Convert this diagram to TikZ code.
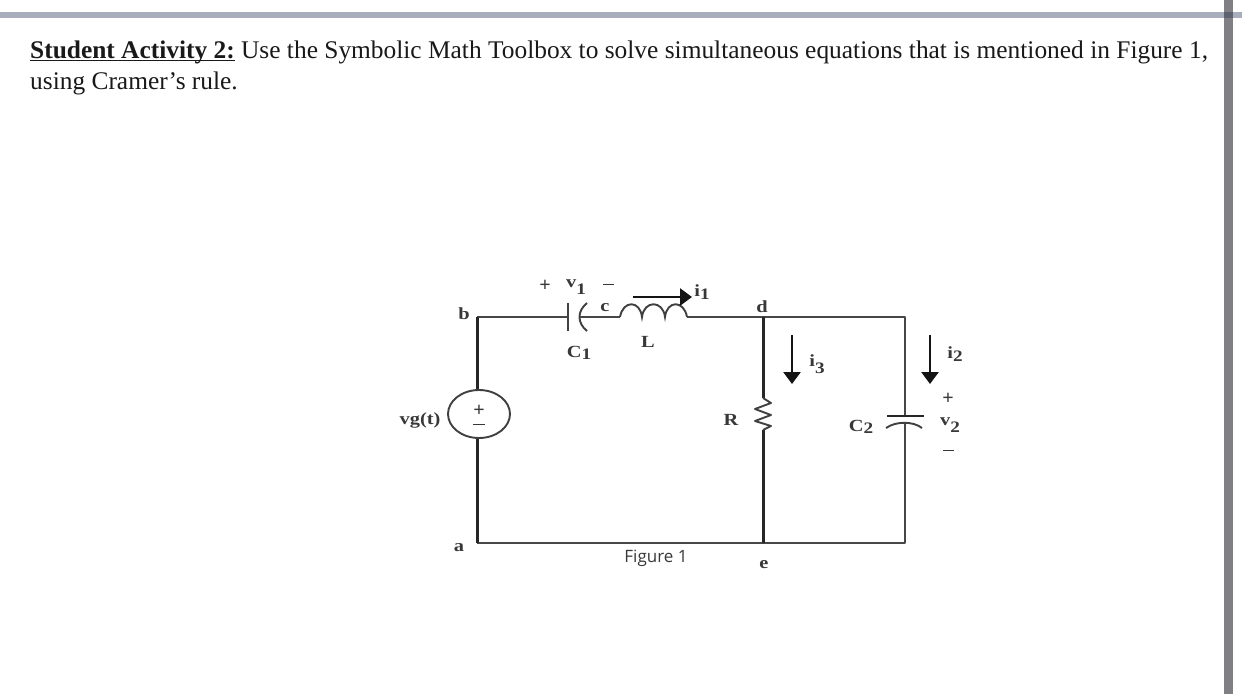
\documentclass[tikz,border=0pt]{standalone}
\usepackage{fontspec}
\setmainfont{Liberation Serif}
\newfontfamily\figfont{Open Sans}
\usetikzlibrary{arrows.meta,shapes.geometric}
\definecolor{barblue}{HTML}{A9AEBC}
\definecolor{bargray}{HTML}{808084}
\definecolor{barcross}{HTML}{5E6270}
\definecolor{labelgray}{HTML}{383838}
\newcommand{\lsub}[2]{\raisebox{#1}{\fontsize{16}{18}\selectfont #2}}
\tikzset{
  x=1pt,y=-1pt,
  body/.style={inner sep=0pt,anchor=base west,font=\fontsize{25.4}{30}\selectfont,text=black!90},
  lab/.style={inner sep=0pt,text=labelgray,xscale=1.2,font=\fontsize{17}{20}\selectfont\bfseries},
  mark sign/.style={inner sep=0pt,text=labelgray,font=\fontsize{20}{22}\selectfont\bfseries},
  wire/.style={draw=black!72,line width=2pt},
  thick wire/.style={draw=black!85,line width=3pt},
  part/.style={draw=black!75,line width=1.9pt},
  current/.style={draw=black!92,line width=2.6pt,-{Triangle[width=17pt,length=12pt]}},
  junction/.style={coordinate},
}
\begin{document}
\begin{tikzpicture}
\useasboundingbox (0,0) rectangle (1242,694);
\fill[white] (0,0) rectangle (1242,694);
% page edges
\fill[barblue] (0,12) rectangle (1242,18);
\fill[bargray] (1224,0) rectangle (1233,694);
\fill[barcross] (1224,12) rectangle (1233,18);
% heading
\node[body] (line1) at (30,58.6) {\underline{\smash{\textbf{Student Activity 2:}}} Use the Symbolic Math Toolbox to solve simultaneous equations that is mentioned in Figure 1,};
\node[body] (line2) at (30,89.6) {using Cramer’s rule.};
% junctions
\node[junction] (b) at (477,317) {};
\node[junction] (a) at (477,543) {};
\node[junction] (d) at (763,317) {};
\node[junction] (e) at (763,543) {};
\node[junction] (tr) at (905,317) {};
\node[junction] (br) at (905,543) {};
\node[junction] (c1l) at (568,317) {};
\node[junction] (c1r) at (580,317) {};
\node[junction] (ll) at (620,317) {};
\node[junction] (lr) at (687,317) {};
\node[junction] (rt) at (763,398) {};
\node[junction] (rb) at (763,430) {};
\node[junction] (c2t) at (905,416) {};
\node[junction] (c2b) at (905,423) {};
\node[junction] (i1s) at (633,297) {};
\node[junction] (i1e) at (692,297) {};
\node[junction] (i3s) at (792,335) {};
\node[junction] (i3e) at (792,384) {};
\node[junction] (i2s) at (930,335) {};
\node[junction] (i2e) at (930,384) {};
% source
\node[draw=black!75,line width=1.9pt,ellipse,minimum width=62pt,minimum height=48pt,inner sep=0pt] (src) at (479,414) {};
% wires
\draw[wire] (b) -- (c1l);
\draw[wire] (c1r) -- (ll);
\draw[wire] (lr) -- (d);
\draw[wire,line join=round] (d) -- (tr) -- (c2t);
\draw[wire,line join=round] (c2b) -- (br) -- (a);
\draw[thick wire] (b) -- (src.north -| b);
\draw[thick wire] (src.south -| a) -- (a);
\draw[thick wire] (d) -- (rt);
\draw[thick wire] (rb) -- (e);
% C1
\draw[part] (568,303) -- (568,331);
\draw[part] (587,303) .. controls (577,311) and (577,323) .. (587,331);
% L
\draw[part] (ll) .. controls (623,300) and (640,300) .. (642,317)
  .. controls (644,300) and (663,300) .. (665,317)
  .. controls (667,300) and (684,300) .. (lr);
% R
\draw[part,line join=round] (rt) -- (771,403) -- (755,409) -- (771,415) -- (755,421) -- (771,426) -- (rb);
% C2
\draw[line width=2.2pt,draw=black!85] (887,416) -- (924,416);
\draw[part] (886,428) .. controls (896,421) and (913,421) .. (922,428);
% currents
\draw[current] (i1s) -- (i1e);
\draw[current] (i3s) -- (i3e);
\draw[current] (i2s) -- (i2e);
% labels
\node[lab] (lb) at (464,314) {b};
\node[lab] (la) at (459,548) {a};
\node[lab] (ld) at (762,307) {d};
\node[lab] (le) at (764,565) {e};
\node[lab] (lc) at (605,308) {c};
\node[lab] (lL) at (648,342) {L};
\node[lab] (lC1) at (579,353) {C\lsub{-2pt}{1}};
\node[lab] (lR) at (731,420) {R};
\node[lab] (lC2) at (861,427) {C\lsub{-2pt}{2}};
\node[lab] (lvg) at (420,420) {vg(t)};
\node[mark sign] (lp) at (479,411) {+};
\node[mark sign] (lm) at (479,426) {\rule[3pt]{12pt}{1.5pt}};
\node[mark sign] (lv1p) at (545,286) {+};
\node[lab] (lv1) at (576,287) {\raisebox{4pt}{v}\lsub{-3pt}{1}};
\node[mark sign] (lv1m) at (608,286) {\rule[3pt]{11pt}{1.5pt}};
\node[lab] (li1) at (702,292) {i\lsub{-3pt}{1}};
\node[lab] (li3) at (817,364) {i\lsub{-7pt}{3}};
\node[lab] (li2) at (955,354) {i\lsub{-3pt}{2}};
\node[mark sign] (lv2p) at (948,399) {+};
\node[lab] (lv2) at (950,425) {\raisebox{4pt}{v}\lsub{-3pt}{2}};
\node[mark sign] (lv2m) at (948,452) {\rule[3pt]{11pt}{1.5pt}};
\node[inner sep=0pt,text=labelgray,font=\figfont\fontsize{17}{20}\selectfont] (cap) at (656,558) {Figure 1};
\end{tikzpicture}
\end{document}
